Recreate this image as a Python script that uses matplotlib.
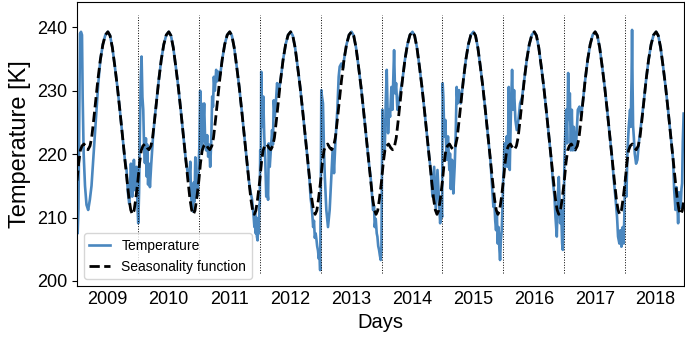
import matplotlib
matplotlib.use("Agg")
import matplotlib.pyplot as plt
import numpy as np

plt.rcParams['font.family'] = ['Liberation Sans', 'DejaVu Sans']

years = [2009, 2010, 2011, 2012, 2013, 2014, 2015, 2016, 2017, 2018]
last_day = 3637

# seasonality function over one year (day of year, K), same every year
season_doy = [0, 10, 20, 30, 42, 55, 66, 78, 88, 100, 112, 125, 140, 155, 170,
              185, 198, 212, 227, 242, 257, 272, 287, 300, 312, 322, 332, 342, 352]
season_val = [215.8, 218.6, 220.6, 221.3, 221.6, 221.0, 220.7, 221.3, 222.6, 225.4,
              228.5, 231.7, 234.9, 237.3, 238.8, 239.3, 238.7, 236.8, 233.8, 230.6,
              226.9, 223.0, 219.1, 215.8, 212.9, 211.2, 210.5, 211.1, 212.9]

# summer part where the temperature sits on the seasonal curve
calm = [(140, 234.9), (155, 237.3), (170, 238.8), (185, 239.3), (198, 238.7),
        (212, 236.8), (227, 233.8), (242, 230.6), (257, 226.9), (272, 223.0), (287, 219.1)]

# temperature (day of year, K), winter/spring part read per year
t2009 = [(0, 215.8), (4, 207.5), (9, 211.5), (14, 226.0), (18, 239.0), (24, 239.3), (30, 238.8),
         (34, 229.0), (40, 220.0), (48, 215.0), (57, 212.0), (67, 211.2), (77, 212.8), (87, 215.0),
         (97, 219.0), (107, 223.0), (117, 227.0), (127, 231.0)]
e2009 = [(297, 217.5), (305, 214.0), (313, 212.2), (318, 215.0), (323, 218.5), (328, 215.5),
         (331, 213.3), (336, 216.0), (341, 219.1), (345, 216.5), (349, 214.3), (353, 216.5),
         (357, 218.0), (362, 212.0)]
t2010 = [(2, 209.1), (7, 214.0), (12, 224.0), (17, 232.0), (22, 235.4), (27, 229.0), (32, 227.0),
         (37, 221.0), (42, 218.6), (48, 222.5), (52, 216.5), (56, 221.5), (61, 215.2), (66, 218.5),
         (72, 214.8), (80, 218.5), (90, 222.5), (100, 225.5), (112, 228.5), (125, 231.7)]
e2010 = [(296, 217.5), (302, 216.0), (308, 216.4), (314, 218.8), (318, 213.5), (324, 212.0),
         (329, 211.0), (334, 215.5), (339, 212.5), (344, 219.5), (349, 214.0), (354, 216.5),
         (359, 213.5), (364, 218.5)]
t2011 = [(3, 221.0), (8, 230.0), (12, 226.5), (16, 228.0), (20, 220.6), (26, 224.3), (32, 228.0),
         (38, 222.0), (44, 220.6), (50, 223.0), (56, 219.6), (62, 221.5), (68, 218.0), (74, 221.7),
         (80, 229.1), (85, 227.5), (90, 232.2), (96, 230.0), (104, 233.3), (110, 231.5),
         (118, 233.0), (128, 232.5)]
e2011 = [(300, 215.8), (310, 214.0), (318, 213.0), (324, 211.5), (328, 210.3), (333, 208.5),
         (337, 210.8), (341, 207.5), (345, 210.0), (348, 207.0), (352, 206.4), (356, 209.0),
         (360, 207.5), (363, 212.0)]
t2012 = [(0, 212.0), (3, 220.6), (6, 218.0), (9, 233.0), (13, 226.0), (16, 224.3), (21, 229.1),
         (27, 222.8), (33, 219.1), (39, 213.3), (45, 214.3), (50, 212.8), (54, 221.7), (60, 218.0),
         (64, 219.6), (70, 222.0), (74, 223.8), (79, 221.5), (84, 228.5), (90, 226.0), (94, 227.0),
         (100, 229.5), (104, 231.2), (112, 229.5), (125, 231.7)]
e2012 = [(298, 216.0), (305, 213.0), (310, 212.0), (315, 210.5), (320, 208.5), (325, 209.5),
         (330, 206.8), (335, 207.5), (340, 206.5), (344, 205.5), (349, 204.8), (354, 203.5),
         (358, 204.5), (362, 201.7)]
t2013 = [(1, 215.0), (4, 230.1), (8, 229.1), (14, 228.0), (20, 220.6), (25, 216.4), (34, 211.2),
         (44, 208.5), (54, 211.2), (64, 216.4), (70, 219.6), (74, 220.6), (80, 217.0), (88, 221.7),
         (100, 227.0), (108, 232.2), (114, 233.8), (124, 234.3), (134, 233.6)]
e2013 = [(300, 216.2), (308, 213.5), (314, 211.2), (320, 211.8), (324, 208.5), (330, 209.8),
         (336, 207.5), (340, 207.0), (345, 205.5), (350, 204.9), (355, 204.0), (360, 203.3),
         (364, 205.0)]
t2014 = [(2, 215.0), (5, 227.0), (11, 221.7), (15, 225.4), (19, 220.6), (25, 228.0), (31, 233.3),
         (39, 223.3), (45, 227.0), (51, 225.9), (59, 230.6), (65, 227.0), (75, 236.4), (81, 229.6),
         (87, 231.2), (95, 227.0), (105, 228.5), (114, 230.0), (125, 231.7)]
e2014 = [(295, 217.5), (305, 213.3), (315, 218.0), (325, 211.2), (335, 217.5), (345, 212.2),
         (351, 209.1), (357, 211.2), (363, 210.1)]
t2015 = [(1, 231.2), (5, 229.1), (11, 222.8), (17, 225.4), (25, 219.1), (33, 222.8), (41, 217.5),
         (45, 220.1), (50, 214.5), (57, 219.1), (65, 213.8), (73, 218.0), (79, 222.8), (85, 230.6),
         (91, 228.0), (99, 230.1), (109, 228.0), (118, 230.0), (128, 232.2)]
e2015 = [(298, 214.5), (305, 211.7), (310, 213.0), (316, 209.5), (321, 208.0), (326, 210.5),
         (331, 205.9), (336, 208.5), (341, 205.0), (345, 203.3), (350, 206.5), (355, 208.0),
         (360, 212.0), (364, 216.0)]
t2016 = [(2, 217.5), (6, 221.7), (12, 218.0), (20, 222.8), (26, 218.0), (32, 230.6), (38, 217.5),
         (44, 225.4), (52, 233.3), (58, 227.0), (64, 230.1), (72, 225.4), (80, 223.8), (90, 225.4),
         (100, 228.0), (112, 229.0), (125, 231.7)]
e2016 = [(296, 215.9), (306, 213.3), (312, 210.1), (320, 207.0), (326, 213.3), (332, 216.4),
         (336, 213.3), (340, 209.1), (346, 211.2), (352, 205.9), (356, 204.9), (360, 208.5)]
t2017 = [(1, 219.1), (7, 224.3), (11, 227.0), (17, 221.7), (23, 232.8), (29, 225.4), (33, 229.6),
         (39, 220.6), (45, 227.0), (51, 220.6), (57, 224.3), (65, 220.6), (71, 221.7), (81, 227.0),
         (91, 227.5), (101, 226.0), (112, 228.5), (125, 231.7)]
e2017 = [(298, 215.5), (306, 213.3), (316, 210.1), (322, 207.0), (330, 205.9), (336, 208.0),
         (342, 205.4), (350, 208.5), (356, 205.9), (362, 213.3)]
t2018 = [(1, 216.4), (7, 213.3), (13, 220.1), (21, 224.3), (29, 227.0), (33, 224.3), (38, 232.0),
         (41, 239.6), (44, 231.0), (47, 224.5), (52, 222.5), (57, 220.1), (65, 218.5), (73, 219.1),
         (81, 221.7), (91, 223.8), (101, 226.0), (112, 228.5), (125, 231.7)]
e2018 = [(293, 214.5), (301, 211.2), (307, 214.8), (312, 212.5), (317, 209.1), (322, 214.0),
         (327, 213.0), (332, 211.5), (337, 214.5), (341, 215.4), (345, 222.0), (350, 226.4)]

starts = [t2009, t2010, t2011, t2012, t2013, t2014, t2015, t2016, t2017, t2018]
ends = [e2009, e2010, e2011, e2012, e2013, e2014, e2015, e2016, e2017, e2018]

# build the day axis
season_x, season_y, temp_x, temp_y = [], [], [], []
for k in range(len(years)):
    for d, v in zip(season_doy, season_val):
        season_x.append(365 * k + d)
        season_y.append(v)
    for d, v in starts[k] + calm + ends[k]:
        temp_x.append(365 * k + d)
        temp_y.append(v)

fig = plt.figure(figsize=(6.85, 3.4), dpi=100)
ax = fig.add_axes([0.1124, 0.1588, 0.8861, 0.8353])

ax.plot(temp_x, temp_y, color='#4a87bf', lw=1.9, label='Temperature')
ax.plot(season_x, season_y, color='k', lw=2.0, ls='--', label='Seasonality function')
ax.vlines([365 * k for k in range(1, 10)], 201.2, 242.0, colors='k', linestyles=':', lw=0.7)

ax.set_xlim(0, last_day)
ax.set_ylim(199.2, 244.0)
ax.set_xticks([182.5 + 365 * k for k in range(10)])
ax.set_xticklabels([str(y) for y in years])
ax.set_yticks([200, 210, 220, 230, 240])
ax.tick_params(axis='x', length=0, labelsize=13)
ax.tick_params(axis='y', labelsize=13)
ax.set_xlabel('Days', fontsize=14.5)
ax.set_ylabel('Temperature [K]', fontsize=17)
ax.legend(loc='lower left', fontsize=10, handlelength=1.5)

fig.savefig('out.png', dpi=100)
